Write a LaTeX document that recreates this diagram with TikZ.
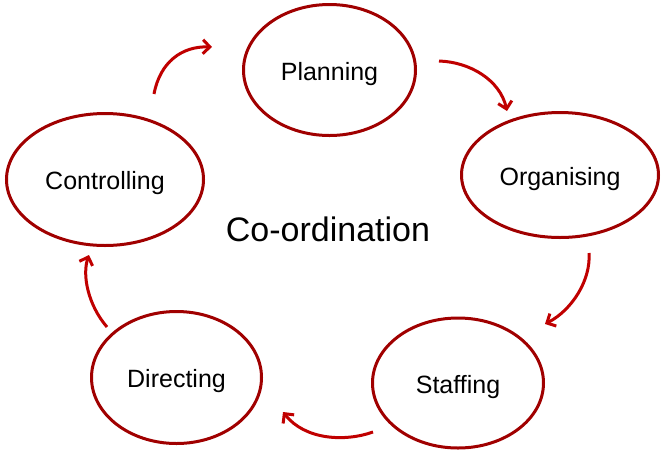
\documentclass[tikz,border=0pt]{standalone}
\usepackage{fontspec}
\setmainfont{Liberation Sans}
\usetikzlibrary{shapes.geometric,arrows.meta}
\definecolor{ellred}{HTML}{A00000}
\definecolor{arrred}{HTML}{C00000}
\begin{document}
\begin{tikzpicture}[x=1pt,y=-1pt,
  stage/.style={ellipse,draw=ellred,line width=3pt,inner sep=0pt,text height=20pt,text depth=0pt,font=\fontsize{25}{30}\selectfont},
  flow/.style={draw=arrred,line width=3pt,-{Straight Barb[length=7pt,width=14pt]}}]
\useasboundingbox (0,0) rectangle (667,451);
\node[stage,minimum width=172pt,minimum height=131pt] (plan) at (329.5,70) {Planning};
\node[stage,minimum width=197pt,minimum height=125pt] (org) at (560,175) {Organising};
\node[stage,minimum width=171pt,minimum height=130pt] (staff) at (458,383) {Staffing};
\node[stage,minimum width=170pt,minimum height=132pt] (dir) at (176.5,377.5) {Directing};
\node[stage,minimum width=197pt,minimum height=132pt] (ctrl) at (105,179.5) {Controlling};
\node[font=\fontsize{34}{40}\selectfont] (coord) at (328,229) {Co-ordination};
\coordinate (a1s) at (154,94);  \coordinate (a1e) at (212,47);
\coordinate (a2s) at (439,61);  \coordinate (a2e) at (507,111);
\coordinate (a3s) at (589,253); \coordinate (a3e) at (545,324);
\coordinate (a4s) at (373,432); \coordinate (a4e) at (283,412);
\coordinate (a5s) at (107,327); \coordinate (a5e) at (89,255);
\draw[flow] (a1s) .. controls (160,62) and (182,46) .. (a1e);
\draw[flow] (a2s) .. controls (470,62) and (500,80) .. (a2e);
\draw[flow] (a3s) .. controls (591,280) and (572,310) .. (a3e);
\draw[flow] (a4s) .. controls (345,442) and (305,440) .. (a4e);
\draw[flow] (a5s) .. controls (88,305) and (82,275) .. (a5e);
\end{tikzpicture}
\end{document}
